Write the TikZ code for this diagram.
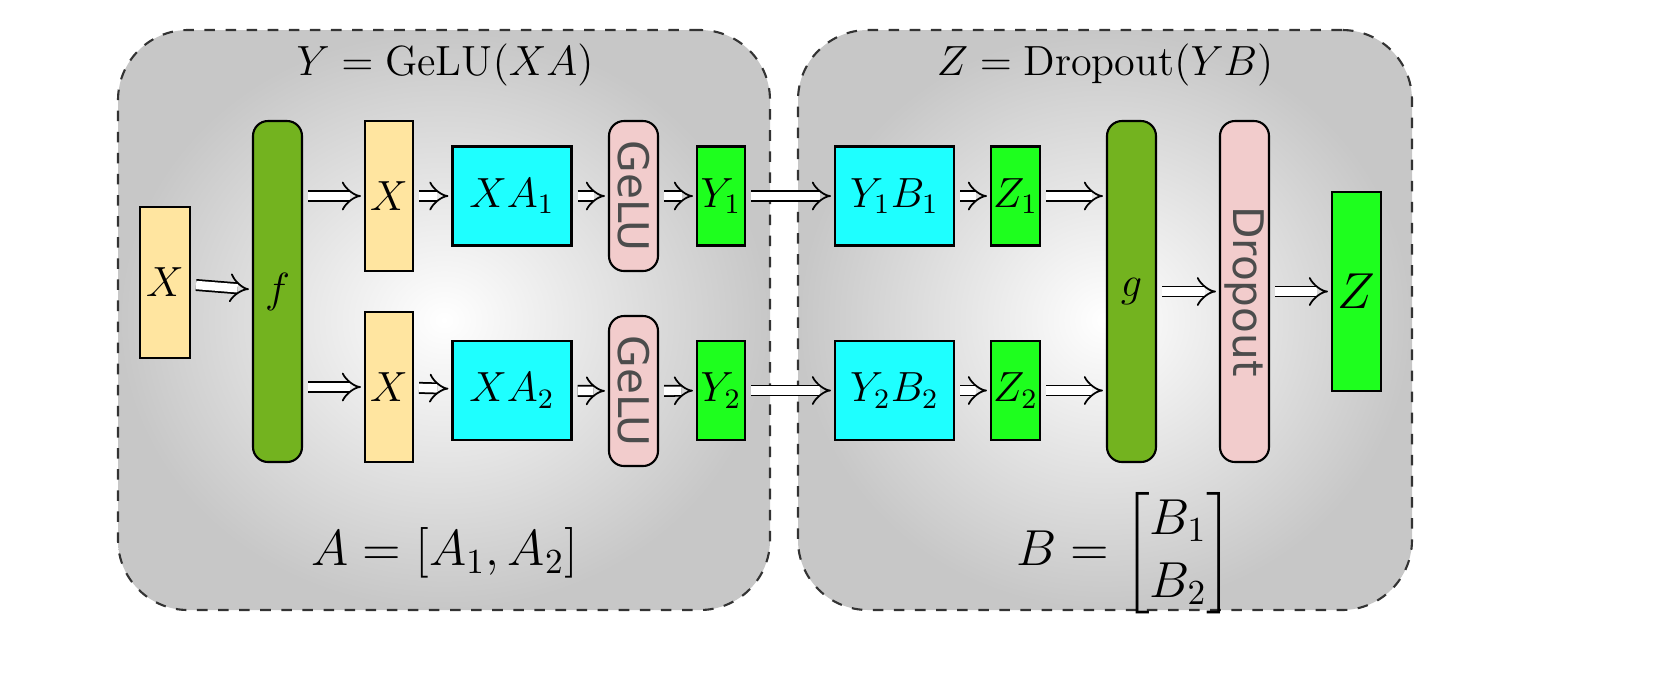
\documentclass[tikz,border=0pt]{standalone}
\usepackage{amsmath}
\usepackage{fontspec}
\newfontfamily\labelsans{DejaVu Sans}
\usetikzlibrary{arrows.meta,positioning}
\definecolor{inyellow}{HTML}{FFE5A0}
\definecolor{fgreen}{HTML}{73B31F}
\definecolor{mcyan}{HTML}{1EFFFF}
\definecolor{actpink}{HTML}{F2CCCC}
\definecolor{outgreen}{HTML}{1EFF1E}
\tikzstyle{block}=[rectangle,
draw=black,
line width=0.6pt,
inner sep=0pt,
font=\large]
\tikzstyle{input}=[block,
fill=inyellow]
\tikzstyle{split}=[block,
fill=fgreen,
rounded corners=1.5mm,
minimum width=0.49cm,
minimum height=3.41cm]
\tikzstyle{matmul}=[block,
fill=mcyan,
minimum width=1.19cm,
minimum height=0.99cm]
\tikzstyle{act}=[block,
fill=actpink,
rounded corners=1.5mm,
minimum width=0.49cm,
text=black!70,
font=\labelsans\large]
\tikzstyle{output}=[block,
fill=outgreen,
minimum width=0.49cm,
minimum height=0.99cm]
\tikzstyle{panel}=[rectangle,
draw=black!80,
dashed,
line width=0.6pt,
rounded corners=7mm,
inner color=white,
outer color=black!22,
minimum width=6.52cm,
minimum height=5.8cm]
\tikzstyle{flow}=[double=white,
double distance=2.4pt,
line width=0.5pt,
-{Implies},
shorten <=0.5mm,
shorten >=0.3mm]

\begin{document}
\begin{tikzpicture}
		\useasboundingbox (0,0) rectangle (16.76,-6.92);
		
		% Dashed background panels
		\node (left)  [panel] at (4.44,-3.2) {};
		\node (right) [panel, minimum width=6.14cm] at (11.05,-3.2) {};
		\node (ytitle) at (4.45,-0.65) {\large $Y = \mathrm{GeLU}(XA)$};
		\node (ztitle) at (11.05,-0.65) {\large $Z = \mathrm{Dropout}(YB)$};
		
		% First layer: column split of A
		\node (x)   [input, minimum width=0.5cm, minimum height=1.51cm] at (1.65,-2.825) {$X$};
		\node (f)   [split] at (2.775,-2.915) {$f$};
		\node (xu)  [input, minimum width=0.48cm, minimum height=1.5cm] at (3.89,-1.96) {$X$};
		\node (xl)  [input, minimum width=0.48cm, minimum height=1.5cm] at (3.89,-3.87) {$X$};
		\node (xa1) [matmul] at (5.12,-1.96) {$XA_1$};
		\node (xa2) [matmul] at (5.12,-3.905) {$XA_2$};
		\node (gelu1) [act, minimum height=1.5cm] at (6.335,-1.96) {\rotatebox{-90}{GeLU}};
		\node (gelu2) [act, minimum height=1.5cm] at (6.335,-3.91) {\rotatebox{-90}{GeLU}};
		\node (y1)  [output, minimum width=0.48cm] at (7.21,-1.96) {$Y_1$};
		\node (y2)  [output, minimum width=0.48cm] at (7.21,-3.905) {$Y_2$};
		
		% Second layer: row split of B
		\node (yb1) [matmul] at (8.945,-1.96) {$Y_1B_1$};
		\node (yb2) [matmul] at (8.945,-3.905) {$Y_2B_2$};
		\node (z1)  [output] at (10.155,-1.96) {$Z_1$};
		\node (z2)  [output] at (10.155,-3.905) {$Z_2$};
		\node (g)   [split] at (11.315,-2.915) {$g$};
		\node (drop) [act, minimum height=3.41cm] at (12.445,-2.915) {\rotatebox{-90}{Dropout}};
		\node (z)   [output, minimum height=1.99cm, font=\Large] at (13.565,-2.915) {$Z$};
		
		\node (alabel) at (4.45,-5.53) {\Large $A = [A_1, A_2]$};
		\node (blabel) at (11.25,-5.53) {\Large $B = \begin{bmatrix} B_1 \\ B_2 \end{bmatrix}$};
		
		% Connections
		\draw[flow] (x) -- (f);
		\draw[flow] (f.east |- xu) -- (xu);
		\draw[flow] (f.east |- xl) -- (xl);
		\draw[flow] (xu) -- (xa1);
		\draw[flow] (xl) -- (xa2);
		\draw[flow] (xa1) -- (gelu1);
		\draw[flow] (xa2) -- (gelu2);
		\draw[flow] (gelu1) -- (y1);
		\draw[flow] (gelu2) -- (y2);
		\draw[flow] (y1) -- (yb1);
		\draw[flow] (y2) -- (yb2);
		\draw[flow] (yb1) -- (z1);
		\draw[flow] (yb2) -- (z2);
		\draw[flow] (z1) -- (g.west |- z1);
		\draw[flow] (z2) -- (g.west |- z2);
		\draw[flow] (g) -- (drop);
		\draw[flow] (drop) -- (z);
\end{tikzpicture}
\end{document}
